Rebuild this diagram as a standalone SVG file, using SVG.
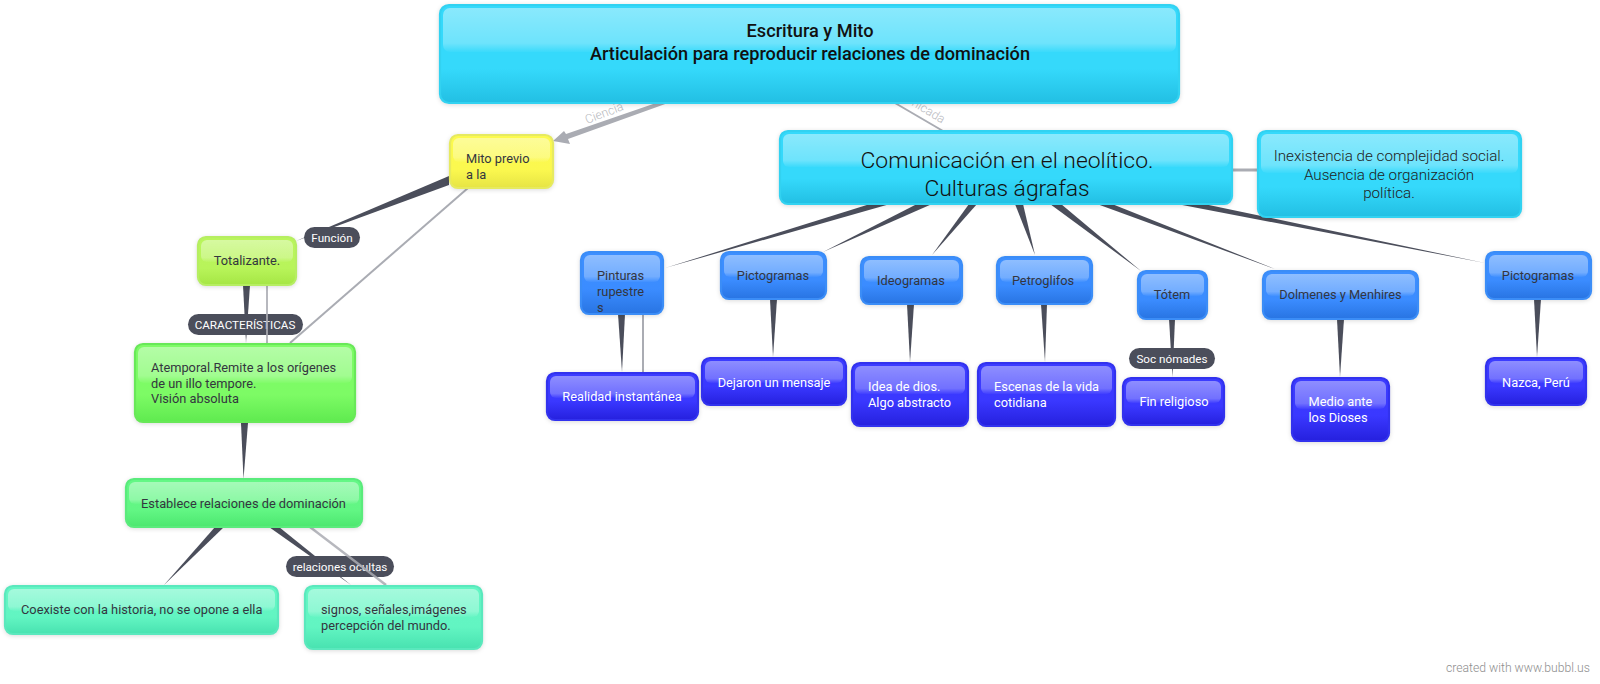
<svg xmlns="http://www.w3.org/2000/svg" width="1600" height="684" viewBox="0 0 1600 684">
<style>
text{font-family:Roboto,"Liberation Sans",sans-serif;font-size:12.8px;fill:#34363f}
.body{stroke-width:2.2;filter:drop-shadow(0 1px 2px rgba(0,0,0,.14))}
.gloss{fill:url(#gloss)}
.c{text-anchor:middle}
.w{fill:#fff}
.d{fill:#4b4e5b}
.g{fill:none;stroke:#aaacb3;stroke-width:2}
.pill{fill:#4b4e5b}
.pt{fill:#fff;font-size:11.7px;text-anchor:middle}
.cy{fill:url(#cy);stroke:#32d2f1}
.bl{fill:url(#bl);stroke:#3b8df7}
.db{fill:url(#db);stroke:#3232ee}
.ye{fill:url(#ye);stroke:#e6ea60}
.yg{fill:url(#yg);stroke:#b6ee62}
.gr{fill:url(#gr);stroke:#68e858}
.g2{fill:url(#g2);stroke:#5aeb7c}
.mi{fill:url(#mi);stroke:#5ae8bd}
.lab{fill:#b9bac0;font-size:12.4px;font-weight:300}
.h1{font-size:18.2px;font-weight:500;fill:#111}
.h2{font-size:22.9px;font-weight:300;fill:#111}
.h3{font-size:15.2px;font-weight:300;fill:#222}
</style>
<defs>
<linearGradient id="gloss" x1="0" y1="0" x2="0" y2="1"><stop offset="0" stop-color="#fff" stop-opacity=".42"/><stop offset=".8" stop-color="#fff" stop-opacity=".28"/><stop offset="1" stop-color="#fff" stop-opacity=".03"/></linearGradient>
<linearGradient id="cy" x1="0" y1="0" x2="0" y2="1"><stop offset="0" stop-color="#35d9fb"/><stop offset=".65" stop-color="#35d9fb"/><stop offset="1" stop-color="#22bfe3"/></linearGradient>
<linearGradient id="bl" x1="0" y1="0" x2="0" y2="1"><stop offset="0" stop-color="#3d8fff"/><stop offset=".6" stop-color="#3b8cff"/><stop offset="1" stop-color="#2874e2"/></linearGradient>
<linearGradient id="db" x1="0" y1="0" x2="0" y2="1"><stop offset="0" stop-color="#3c3cff"/><stop offset=".6" stop-color="#3a38ff"/><stop offset="1" stop-color="#2520de"/></linearGradient>
<linearGradient id="ye" x1="0" y1="0" x2="0" y2="1"><stop offset="0" stop-color="#fcfa4e"/><stop offset=".65" stop-color="#fbf84f"/><stop offset="1" stop-color="#e6e444"/></linearGradient>
<linearGradient id="yg" x1="0" y1="0" x2="0" y2="1"><stop offset="0" stop-color="#b9f55c"/><stop offset=".65" stop-color="#b8f45a"/><stop offset="1" stop-color="#a5e644"/></linearGradient>
<linearGradient id="gr" x1="0" y1="0" x2="0" y2="1"><stop offset="0" stop-color="#7efb67"/><stop offset=".65" stop-color="#7dfb65"/><stop offset="1" stop-color="#5fea4f"/></linearGradient>
<linearGradient id="g2" x1="0" y1="0" x2="0" y2="1"><stop offset="0" stop-color="#64f786"/><stop offset=".65" stop-color="#62f684"/><stop offset="1" stop-color="#4ce76f"/></linearGradient>
<linearGradient id="mi" x1="0" y1="0" x2="0" y2="1"><stop offset="0" stop-color="#64f6c4"/><stop offset=".65" stop-color="#62f5c2"/><stop offset="1" stop-color="#48e2b0"/></linearGradient>
</defs>
<rect width="1600" height="684" fill="#fff"/>

<g id="connectors">
<polygon class="d" points="449,176 449,185 296,241"/>
<polygon class="d" points="243,285 250,285 246,343"/>
<polygon class="d" points="241,423 248,423 243.5,479"/>
<polygon class="d" points="215,527 224,527 164,585"/>
<polygon class="d" points="269,527 279,527 351,585"/>
<polygon class="d" points="870,204 890,204 665,268"/>
<polygon class="d" points="917,204 932,204 823,252"/>
<polygon class="d" points="969,204 977,204 932,255"/>
<polygon class="d" points="1015,204 1023,204 1035,255"/>
<polygon class="d" points="1050,204 1061,204 1141,271"/>
<polygon class="d" points="1097,204 1112,204 1275,269"/>
<polygon class="d" points="1177,204 1204,204 1485,263"/>
<polygon class="d" points="618,314 625,314 622,372"/>
<polygon class="d" points="770,299 777,299 773,357"/>
<polygon class="d" points="907,304 914,304 910,362"/>
<polygon class="d" points="1041,304 1047,304 1045,362"/>
<polygon class="d" points="1169,319 1175,319 1172.5,377"/>
<polygon class="d" points="1337,319 1344,319 1340,377"/>
<polygon class="d" points="1534,299 1541,299 1537,357"/>
<line class="g" x1="468" y1="188" x2="290" y2="343"/>
<line class="g" x1="895" y1="103" x2="943" y2="131"/>
<line class="g" x1="1232" y1="170" x2="1257" y2="170" style="stroke-width:3"/>
<line class="g" x1="643" y1="314" x2="643" y2="372"/>
<polygon fill="#aaacb3" points="656,103 668,103 568,139 570,144 553,141 564,131 566,134"/>
<text class="lab" transform="translate(587,124) rotate(-21)">Ciencia</text>
<text class="lab" transform="translate(911,105) rotate(31)">nicada</text>
<rect class="pill" x="304" y="227" width="56" height="21" rx="10.5"/>
<text class="pt" x="332" y="241.500">Función</text>
<rect class="pill" x="188" y="314" width="115" height="21" rx="10.5"/>
<text class="pt" x="245" y="328.500">CARACTERÍSTICAS</text>
<rect class="pill" x="286" y="556" width="108" height="21" rx="10.5"/>
<text class="pt" x="340" y="570.500">relaciones ocultas</text>
<rect class="pill" x="1129" y="348" width="86" height="21" rx="10.5"/>
<text class="pt" x="1172" y="362.500">Soc nómades</text>
<line class="g" x1="267" y1="285" x2="267" y2="343" opacity=".85"/>
<line class="g" x1="310" y1="527" x2="386" y2="585" style="stroke-width:2.4" opacity=".85"/>
</g>

<g id="top"><rect class="body cy" x="440" y="5" width="739" height="98" rx="9"/><rect class="gloss" x="443" y="8" width="733" height="44" rx="7"/><text class="c h1" x="810" y="37">Escritura y Mito</text><text class="c h1" x="810" y="60">Articulación para reproducir relaciones de dominación</text></g>
<g id="mito"><rect class="body ye" x="450" y="135" width="103" height="53" rx="8"/><rect class="gloss" x="453" y="138" width="97" height="24" rx="6"/><text x="466" y="163">Mito previo</text><text x="466" y="179">a la</text></g>
<g id="comunicacion"><rect class="body cy" x="780" y="131" width="452" height="73" rx="8"/><rect class="gloss" x="783" y="134" width="446" height="33" rx="6"/><text class="c h2" x="1007" y="168">Comunicación en el neolítico.</text><text class="c h2" x="1007" y="196">Culturas ágrafas</text></g>
<g id="inexistencia"><rect class="body cy" x="1258" y="131" width="263" height="86" rx="8"/><rect class="gloss" x="1261" y="134" width="257" height="39" rx="6"/><text class="c h3" x="1389" y="161">Inexistencia de complejidad social.</text><text class="c h3" x="1389" y="180">Ausencia de organización</text><text class="c h3" x="1389" y="198">política.</text></g>
<g id="totalizante"><rect class="body yg" x="198" y="237" width="98" height="48" rx="8"/><rect class="gloss" x="201" y="240" width="92" height="22" rx="6"/><text class="c" x="247" y="265">Totalizante.</text></g>
<g id="atemporal"><rect class="body gr" x="135" y="344" width="220" height="78" rx="8"/><rect class="gloss" x="138" y="347" width="214" height="36" rx="6"/><text x="151" y="372">Atemporal.Remite a los orígenes</text><text x="151" y="388">de un illo tempore.</text><text x="151" y="403">Visión absoluta</text></g>
<g id="establece"><rect class="body g2" x="126" y="479" width="236" height="48" rx="8"/><rect class="gloss" x="129" y="482" width="230" height="22" rx="6"/><text class="c" x="243.500" y="508">Establece relaciones de dominación</text></g>
<g id="coexiste"><rect class="body mi" x="5" y="586" width="273" height="48" rx="8"/><rect class="gloss" x="8" y="589" width="267" height="22" rx="6"/><text x="21" y="614">Coexiste con la historia, no se opone a ella</text></g>
<g id="signos"><rect class="body mi" x="305" y="586" width="177" height="63" rx="8"/><rect class="gloss" x="308" y="589" width="171" height="28" rx="6"/><text x="321" y="614">signos, señales,imágenes</text><text x="321" y="630">percepción del mundo.</text></g>
<g id="pinturas"><rect class="body bl" x="581" y="252" width="82" height="62" rx="8"/><rect class="gloss" x="584" y="255" width="76" height="27" rx="6"/><text x="597" y="280">Pinturas</text><text x="597" y="296">rupestre</text><text x="597" y="312">s</text></g>
<g id="pictogramas1"><rect class="body bl" x="721" y="252" width="105" height="47" rx="8"/><rect class="gloss" x="724" y="255" width="99" height="22" rx="6"/><text class="c" x="773" y="280">Pictogramas</text></g>
<g id="ideogramas"><rect class="body bl" x="861" y="257" width="101" height="47" rx="8"/><rect class="gloss" x="864" y="260" width="95" height="22" rx="6"/><text class="c" x="911" y="285">Ideogramas</text></g>
<g id="petroglifos"><rect class="body bl" x="997" y="257" width="95" height="47" rx="8"/><rect class="gloss" x="1000" y="260" width="89" height="22" rx="6"/><text class="c" x="1043" y="285">Petroglifos</text></g>
<g id="totem"><rect class="body bl" x="1138" y="271" width="69" height="48" rx="8"/><rect class="gloss" x="1141" y="274" width="63" height="22" rx="6"/><text class="c" x="1172" y="299">Tótem</text></g>
<g id="dolmenes"><rect class="body bl" x="1263" y="271" width="155" height="48" rx="8"/><rect class="gloss" x="1266" y="274" width="149" height="22" rx="6"/><text class="c" x="1340.500" y="299">Dolmenes y Menhires</text></g>
<g id="pictogramas2"><rect class="body bl" x="1486" y="252" width="105" height="47" rx="8"/><rect class="gloss" x="1489" y="255" width="99" height="22" rx="6"/><text class="c" x="1538" y="280">Pictogramas</text></g>
<g id="realidad"><rect class="body db" x="547" y="373" width="151" height="47" rx="8"/><rect class="gloss" x="550" y="376" width="145" height="22" rx="6"/><text class="c w" x="622" y="401">Realidad instantánea</text></g>
<g id="dejaron"><rect class="body db" x="702" y="358" width="144" height="47" rx="8"/><rect class="gloss" x="705" y="361" width="138" height="22" rx="6"/><text class="c w" x="774" y="387">Dejaron un mensaje</text></g>
<g id="idea"><rect class="body db" x="852" y="363" width="116" height="63" rx="8"/><rect class="gloss" x="855" y="366" width="110" height="28" rx="6"/><text class="w" x="868" y="391">Idea de dios.</text><text class="w" x="868" y="407">Algo abstracto</text></g>
<g id="escenas"><rect class="body db" x="978" y="363" width="137" height="63" rx="8"/><rect class="gloss" x="981" y="366" width="131" height="28" rx="6"/><text class="w" x="994" y="391">Escenas de la vida</text><text class="w" x="994" y="407">cotidiana</text></g>
<g id="fin"><rect class="body db" x="1123" y="378" width="101" height="47" rx="8"/><rect class="gloss" x="1126" y="381" width="95" height="22" rx="6"/><text class="c w" x="1174" y="406">Fin religioso</text></g>
<g id="medio"><rect class="body db" x="1292" y="378" width="97" height="63" rx="8"/><rect class="gloss" x="1295" y="381" width="91" height="28" rx="6"/><text class="w" x="1308.500" y="406">Medio ante</text><text class="w" x="1308.500" y="422">los Dioses</text></g>
<g id="nazca"><rect class="body db" x="1486" y="358" width="100" height="47" rx="8"/><rect class="gloss" x="1489" y="361" width="94" height="22" rx="6"/><text class="c w" x="1536" y="387">Nazca, Perú</text></g>
<text x="1446" y="672" style="font-size:12.2px;fill:#8e8e8e;font-weight:300">created with www.bubbl.us</text>
</svg>
